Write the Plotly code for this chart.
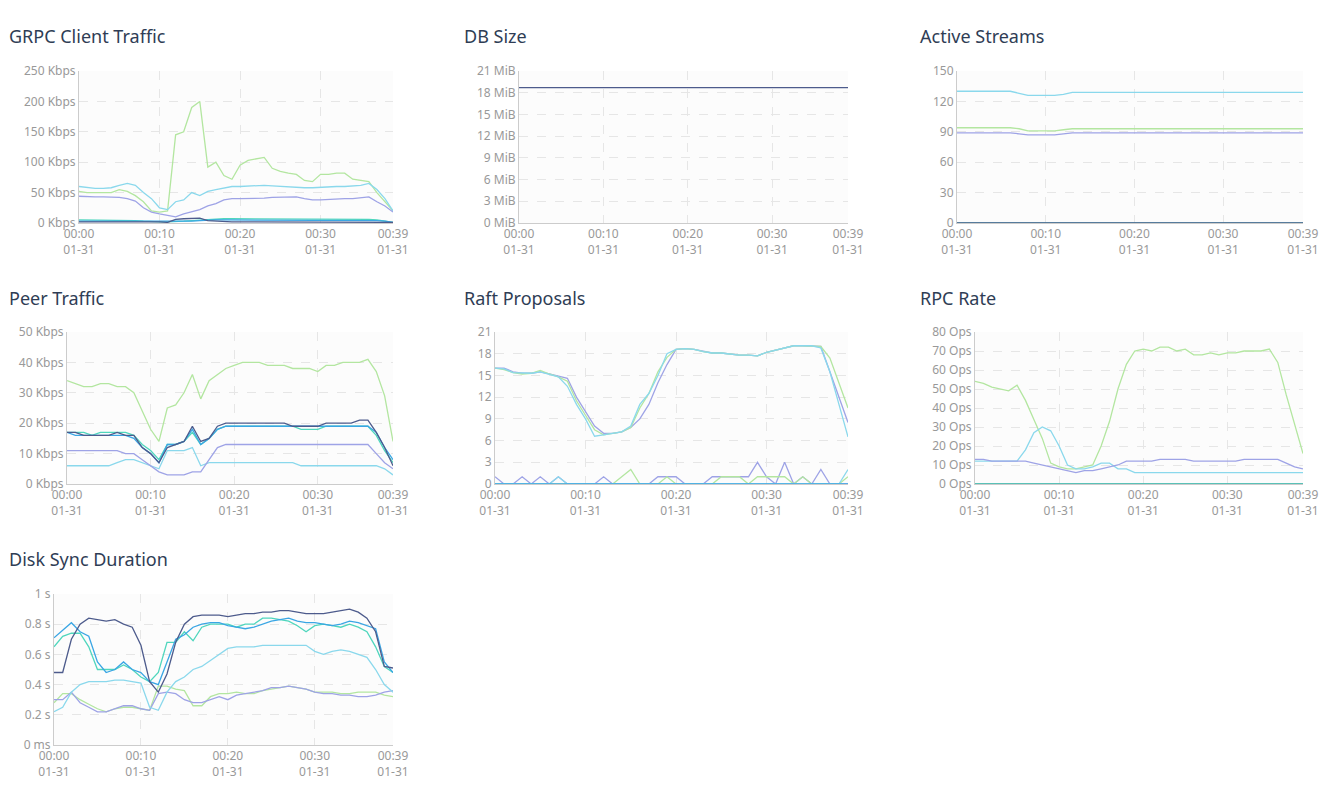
import plotly.graph_objects as go

minutes = list(range(40))
tick_vals = [0, 10, 20, 30, 39]
tick_text = ["00:00<br>01-31", "00:10<br>01-31", "00:20<br>01-31", "00:30<br>01-31", "00:39<br>01-31"]

C_DARK = "#4d5b8c"; C_GREEN = "#b3e6a0"; C_CYAN = "#8ad8ec"; C_LAV = "#9ea3e6"; C_TEAL = "#4fd6bd"; C_BLUE = "#3aa6e4"

# GRPC Client Traffic (Kbps)
grpc_green = [52,50,50,50,50,55,52,45,35,20,18,20,145,150,190,200,92,100,78,72,95,103,105,108,90,85,82,80,70,68,80,80,82,82,72,70,68,50,35,20]
grpc_cyan = [60,58,57,57,58,62,65,62,50,40,25,22,35,38,50,45,52,55,58,60,60,61,61,62,61,60,60,59,58,58,59,60,60,60,61,62,65,55,40,20]
grpc_lav = [44,43,43,43,43,42,40,36,25,18,15,12,10,15,18,22,28,32,38,40,40,40,40,41,42,42,43,43,40,38,38,39,40,40,40,41,43,35,28,18]
grpc_teal = [5,5,5,5,5,5,5,4,3,2,2,2,2,3,4,5,6,7,7,7,7,7,7,7,7,7,7,7,7,7,7,7,7,7,7,7,6,5,3,1]
grpc_dark = [2,2,2,2,2,3,3,3,3,3,2,1,6,7,8,8,4,3,2,2,2,2,1,1,1,1,1,1,1,1,1,1,1,1,1,1,1,1,1,1]
grpc_blue = [3,3,3,3,3,3,3,3,3,2,2,2,2,2,3,4,5,5,5,5,5,5,5,5,5,5,5,5,5,5,5,5,5,5,5,5,5,4,3,1]

# DB Size (MiB)
db_dark = [18.7] * 40

# Active Streams
as_cyan = [130,130,130,130,130,130,130,128,126,126,126,126,127,129,129,129,129,129,129,129,129,129,129,129,129,129,129,129,129,129,129,129,129,129,129,129,129,129,129,129]
as_green = [94,94,94,94,94,94,94,93,91,91,91,91,92,93,93,93,93,93,93,93,93,93,93,93,93,93,93,93,93,93,93,93,93,93,93,93,93,93,93,93]
as_lav = [89,89,89,89,89,89,89,88,87,87,87,87,88,89,89,89,89,89,89,89,89,89,89,89,89,89,89,89,89,89,89,89,89,89,89,89,89,89,89,89]
as_zero = [0] * 40

# Peer Traffic (Kbps)
peer_green = [34,33,32,32,33,33,32,32,30,24,18,14,25,26,30,36,28,34,36,38,39,40,40,40,39,39,39,38,38,38,37,39,39,40,40,40,41,37,29,14]
peer_dark = [17,17,16,16,16,16,17,16,16,12,10,7,12,13,14,19,14,15,19,20,20,20,20,20,20,20,20,19,19,19,19,20,20,20,20,21,21,17,12,6]
peer_teal = [17,17,17,16,17,17,17,17,16,13,11,8,13,13,14,17,13,15,18,19,19,19,19,19,19,19,19,19,18,18,18,19,19,19,19,19,19,16,11,7]
peer_blue = [17,16,16,16,16,16,16,16,15,12,10,7,13,13,14,18,13,15,18,19,19,19,19,19,19,19,19,19,19,19,19,19,19,19,19,19,19,17,12,8]
peer_lav = [11,11,11,11,11,11,11,10,10,8,6,4,3,3,3,4,4,8,12,13,13,13,13,13,13,13,13,13,13,13,13,13,13,13,13,13,13,10,7,5]
peer_cyan = [6,6,6,6,6,6,7,8,8,7,6,5,11,11,11,12,6,7,7,7,7,7,7,7,7,7,7,7,6,6,6,6,6,6,6,6,6,6,5,3]

# Raft Proposals
raft_lav = [16,16,15.5,15.3,15.3,15.5,15.2,14.9,14.6,12,10,8,7,7,7.2,7.8,9,11,14,16.5,18.6,18.7,18.6,18.4,18.1,18.1,17.9,17.8,17.8,17.7,18.2,18.5,18.8,19.1,19.1,19.1,19,15.5,12,8.5]
raft_green = [16,15.8,15.4,15.2,15.3,15.7,15.2,14.8,14.2,11.5,9.5,7.5,6.8,7,7.2,7.8,10.5,12.5,15.5,17.5,18.6,18.7,18.6,18.3,18.1,18.1,17.9,17.8,17.8,17.7,18.2,18.5,18.8,19.1,19.1,19.1,19,17.4,14,10.5]
raft_cyan = [16,15.9,15.4,15.3,15.3,15.5,15.2,14.8,13.5,11,9,6.6,6.8,7,7.2,8,11,12.5,15,18,18.6,18.7,18.6,18.3,18.1,18.1,17.9,17.8,17.8,17.7,18.2,18.5,18.8,19.1,19.1,19.1,18.8,15.5,11,6.5]
raft_lav_low = [1,0,0,1,0,1,0,1,0,0,0,0,1,0,0,0,0,0,1,1,1,0,0,0,1,1,1,1,1,3,1,0,3,0,1,0,2,0,0,0]
raft_green_low = [0,0,0,0,0,0,0,0,0,0,0,0,0,0,1,2,0,0,0,1,0,0,0,0,0,1,1,1,0,1,1,1,1,0,1,0,0,0,0,1]
raft_cyan_low = [0,0,0,0,0,0,0,1,0,0,0,0,0,0,0,0,0,0,0,0,0,0,0,0,0,0,0,0,0,0,0,0,0,0,0,0,0,0,0,2]
raft_zero = [0] * 40

# RPC Rate (Ops)
rpc_green = [54,53,51,50,49,52,44,34,24,11,9,8,8,9,10,20,33,50,63,70,71,70,72,72,70,71,68,68,69,68,69,69,70,70,70,71,64,47,32,16]
rpc_cyan = [12,12,12,12,12,12,18,27,30,28,20,10,8,8,9,11,11,8,8,6,6,6,6,6,6,6,6,6,6,6,6,6,6,6,6,6,6,6,6,6]
rpc_lav = [13,13,12,12,12,12,12,11,10,9,8,7,6,7,7,8,9,10,12,12,12,12,13,13,13,13,12,12,12,12,12,12,13,13,13,13,13,11,9,8]
rpc_zero = [0] * 40

# Disk Sync Duration (s)
disk_dark = [0.48,0.48,0.7,0.8,0.84,0.83,0.82,0.83,0.8,0.78,0.66,0.42,0.35,0.47,0.68,0.8,0.85,0.86,0.86,0.86,0.85,0.86,0.87,0.87,0.88,0.88,0.89,0.89,0.88,0.87,0.87,0.87,0.88,0.89,0.9,0.88,0.84,0.75,0.52,0.51]
disk_blue = [0.71,0.76,0.81,0.75,0.72,0.55,0.48,0.5,0.55,0.5,0.48,0.42,0.4,0.55,0.7,0.73,0.78,0.8,0.81,0.81,0.79,0.78,0.77,0.78,0.8,0.82,0.83,0.84,0.82,0.81,0.81,0.8,0.79,0.8,0.82,0.81,0.79,0.77,0.55,0.48]
disk_teal = [0.65,0.72,0.74,0.74,0.65,0.5,0.5,0.5,0.53,0.5,0.45,0.42,0.48,0.68,0.68,0.75,0.69,0.78,0.8,0.8,0.8,0.78,0.8,0.8,0.84,0.84,0.83,0.82,0.79,0.75,0.79,0.8,0.79,0.78,0.8,0.78,0.75,0.65,0.52,0.48]
disk_cyan = [0.22,0.25,0.35,0.4,0.42,0.42,0.42,0.43,0.43,0.42,0.41,0.25,0.23,0.35,0.42,0.45,0.5,0.52,0.56,0.6,0.64,0.65,0.65,0.65,0.66,0.66,0.66,0.66,0.66,0.66,0.62,0.6,0.62,0.63,0.62,0.6,0.58,0.5,0.4,0.35]
disk_green = [0.28,0.34,0.34,0.3,0.27,0.24,0.22,0.24,0.25,0.25,0.24,0.23,0.39,0.39,0.37,0.36,0.26,0.26,0.32,0.34,0.34,0.35,0.34,0.34,0.36,0.37,0.38,0.39,0.38,0.37,0.35,0.35,0.35,0.34,0.34,0.35,0.35,0.35,0.33,0.32]
disk_lav = [0.3,0.3,0.35,0.28,0.25,0.22,0.22,0.24,0.26,0.26,0.24,0.23,0.34,0.35,0.34,0.3,0.28,0.28,0.3,0.32,0.3,0.33,0.34,0.35,0.36,0.38,0.38,0.39,0.38,0.37,0.35,0.34,0.34,0.33,0.33,0.32,0.32,0.33,0.35,0.36]

W, H = 1329, 805
panels = [
    dict(title="GRPC Client Traffic", tx=8, ty=36, x0=79, x1=393, y0=71, y1=223,
         yr=[0, 250], ytv=[0, 50, 100, 150, 200, 250], ytt=["0 Kbps", "50 Kbps", "100 Kbps", "150 Kbps", "200 Kbps", "250 Kbps"],
         series=[(grpc_green, C_GREEN), (grpc_cyan, C_CYAN), (grpc_lav, C_LAV), (grpc_teal, C_TEAL), (grpc_blue, C_BLUE), (grpc_dark, C_DARK)]),
    dict(title="DB Size", tx=463, ty=36, x0=519, x1=848, y0=71, y1=223,
         yr=[0, 21], ytv=[0, 3, 6, 9, 12, 15, 18, 21], ytt=["0 MiB", "3 MiB", "6 MiB", "9 MiB", "12 MiB", "15 MiB", "18 MiB", "21 MiB"],
         series=[(db_dark, C_DARK)]),
    dict(title="Active Streams", tx=919, ty=36, x0=957, x1=1303, y0=71, y1=223,
         yr=[0, 150], ytv=[0, 30, 60, 90, 120, 150], ytt=["0", "30", "60", "90", "120", "150"],
         series=[(as_cyan, C_CYAN), (as_green, C_GREEN), (as_lav, C_LAV), (as_zero, C_TEAL), (as_zero, C_DARK)]),
    dict(title="Peer Traffic", tx=8, ty=298, x0=67, x1=393, y0=332, y1=484,
         yr=[0, 50], ytv=[0, 10, 20, 30, 40, 50], ytt=["0 Kbps", "10 Kbps", "20 Kbps", "30 Kbps", "40 Kbps", "50 Kbps"],
         series=[(peer_green, C_GREEN), (peer_cyan, C_CYAN), (peer_lav, C_LAV), (peer_teal, C_TEAL), (peer_blue, C_BLUE), (peer_dark, C_DARK)]),
    dict(title="Raft Proposals", tx=463, ty=298, x0=495, x1=848, y0=332, y1=484,
         yr=[0, 21], ytv=[0, 3, 6, 9, 12, 15, 18, 21], ytt=["0", "3", "6", "9", "12", "15", "18", "21"],
         series=[(raft_lav_low, C_LAV), (raft_green_low, C_GREEN), (raft_cyan_low, C_CYAN), (raft_zero, C_BLUE),
                 (raft_lav, C_LAV), (raft_green, C_GREEN), (raft_cyan, C_CYAN)]),
    dict(title="RPC Rate", tx=919, ty=298, x0=975, x1=1303, y0=332, y1=484,
         yr=[0, 80], ytv=[0, 10, 20, 30, 40, 50, 60, 70, 80], ytt=[f"{v} Ops" for v in range(0, 90, 10)],
         series=[(rpc_green, C_GREEN), (rpc_cyan, C_CYAN), (rpc_lav, C_LAV), (rpc_zero, C_DARK), (rpc_zero, C_TEAL)]),
    dict(title="Disk Sync Duration", tx=8, ty=559, x0=54, x1=393, y0=594, y1=745,
         yr=[0, 1], ytv=[0, 0.2, 0.4, 0.6, 0.8, 1], ytt=["0 ms", "0.2 s", "0.4 s", "0.6 s", "0.8 s", "1 s"],
         series=[(disk_green, C_GREEN), (disk_lav, C_LAV), (disk_cyan, C_CYAN), (disk_teal, C_TEAL), (disk_blue, C_BLUE), (disk_dark, C_DARK)]),
]

fig = go.Figure()
layout = dict(width=W, height=H, margin=dict(l=0, r=0, t=0, b=0, pad=0, autoexpand=False), paper_bgcolor="white",
              plot_bgcolor="#fcfcfc", showlegend=False, font=dict(family="Noto Sans", color="#999"))
annotations = []
for i, p in enumerate(panels, start=1):
    xa = "x" if i == 1 else f"x{i}"
    ya = "y" if i == 1 else f"y{i}"
    for vals, col in p["series"]:
        fig.add_trace(go.Scatter(x=minutes, y=vals, mode="lines", line=dict(color=col, width=1.3),
                                 xaxis=xa, yaxis=ya, hoverinfo="skip"))
    common = dict(showgrid=True, gridcolor="#e6e6e6", griddash="dash", showline=True, linecolor="#cccccc",
                  zeroline=False, ticks="", tickfont=dict(size=12, color="#999"), fixedrange=True, automargin=False)
    layout[f"xaxis{i}"] = dict(domain=[p["x0"] / W, p["x1"] / W], anchor=ya, range=[0, 39],
                               tickvals=tick_vals, ticktext=tick_text, **common)
    layout[f"yaxis{i}"] = dict(domain=[1 - p["y1"] / H, 1 - p["y0"] / H], anchor=xa, range=p["yr"],
                               tickvals=p["ytv"], ticktext=p["ytt"], **common)
    annotations.append(dict(text=p["title"], x=p["tx"] / W, y=1 - p["ty"] / H, xref="paper", yref="paper",
                            xanchor="left", yanchor="middle", showarrow=False, borderpad=0,
                            font=dict(size=18, color="#2f3d55", family="Noto Sans")))
layout["annotations"] = annotations
fig.update_layout(**layout)
fig.write_html("out.html", config={"displayModeBar": False})

with open("out.html", encoding="utf-8") as f:
    html = f.read()
html = html.replace("<head>", "<head><style>html,body{margin:0;padding:0;overflow:hidden}</style>", 1)
with open("out.html", "w", encoding="utf-8") as f:
    f.write(html)
